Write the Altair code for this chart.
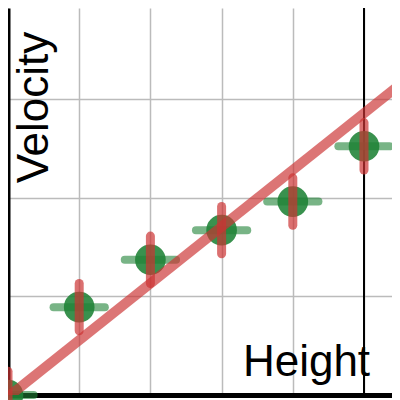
import altair as alt
import pandas as pd

# data
height_vals = [0, 1, 2, 3, 4, 5]
velocity_vals = [0.0, 0.89, 1.37, 1.67, 1.96, 2.52]
height_err = [0.36, 0.36, 0.36, 0.36, 0.36, 0.36]
velocity_err = [0.24, 0.24, 0.24, 0.24, 0.24, 0.24]

fit_height = [-0.2, 5.7]
fit_velocity = [-0.135, 3.258]

ref_height = [5]

pts = pd.DataFrame({"h": height_vals, "v": velocity_vals,
                    "he": height_err, "ve": velocity_err})
pts["h_lo"] = pts["h"] - pts["he"]
pts["h_hi"] = pts["h"] + pts["he"]
pts["v_lo"] = pts["v"] - pts["ve"]
pts["v_hi"] = pts["v"] + pts["ve"]
fit = pd.DataFrame({"h": fit_height, "v": fit_velocity})
ref = pd.DataFrame({"h": ref_height})

GREEN = "#1e8236"
RED = "#cc3333"
FONT = "Liberation Sans"

W = 384
H = 387

xscale = alt.Scale(domain=[0, W / 71.2], nice=False, zero=False)
yscale = alt.Scale(domain=[0, H / 98.7], nice=False, zero=False)

xaxis = alt.Axis(values=[0, 1, 2, 3, 4, 5], labels=False, ticks=False,
                 grid=True, gridColor="#bbbbbb", gridWidth=1.5, gridOpacity=1,
                 domain=True, domainColor="black", domainWidth=5,
                 title="Height", titleFont=FONT, titleFontSize=44,
                 titleFontWeight="normal", titleColor="black",
                 titleX=298, titleY=-20, titleAlign="center",
                 titleBaseline="alphabetic", titleAngle=0)
yaxis = alt.Axis(values=[0, 1, 2, 3], labels=False, ticks=False,
                 grid=True, gridColor="#bbbbbb", gridWidth=1.5, gridOpacity=1,
                 domain=True, domainColor="black", domainWidth=4,
                 title="Velocity", titleFont=FONT, titleFontSize=44,
                 titleFontWeight="normal", titleColor="black",
                 titleX=39, titleY=99, titleAlign="center",
                 titleBaseline="alphabetic", titleAngle=270)

base_axes = alt.Chart(ref).mark_rule(color="black", strokeWidth=2).encode(
    x=alt.X("h:Q", scale=xscale, axis=xaxis),
    y=alt.value(0),
    y2=alt.value(H),
)

# y axis carrier (invisible)
yax = alt.Chart(pts).mark_point(opacity=0).encode(
    x=alt.X("h:Q", scale=xscale),
    y=alt.Y("v:Q", scale=yscale, axis=yaxis),
)

herr = alt.Chart(pts).mark_rule(color=GREEN, strokeWidth=8, strokeCap="round",
                                opacity=0.6).encode(
    x=alt.X("h_lo:Q", scale=xscale),
    x2="h_hi:Q",
    y=alt.Y("v:Q", scale=yscale),
)

circ = alt.Chart(pts).mark_circle(color=GREEN, size=940, opacity=0.88).encode(
    x=alt.X("h:Q", scale=xscale),
    y=alt.Y("v:Q", scale=yscale),
)

verr = alt.Chart(pts).mark_rule(color=RED, strokeWidth=9, strokeCap="round",
                                opacity=0.7).encode(
    x=alt.X("h:Q", scale=xscale),
    y=alt.Y("v_lo:Q", scale=yscale),
    y2="v_hi:Q",
)

line = alt.Chart(fit).mark_line(color=RED, strokeWidth=10, opacity=0.68,
                                clip=True).encode(
    x=alt.X("h:Q", scale=xscale),
    y=alt.Y("v:Q", scale=yscale),
)

chart = alt.layer(base_axes, yax, herr, circ, verr, line).properties(
    width=W, height=H,
    autosize=alt.AutoSizeParams(type="none"),
    padding={"left": 0, "top": 0, "right": 0, "bottom": 5},
).configure_view(stroke=None)

chart.save("out.html", embed_options={"renderer": "svg", "actions": False})
